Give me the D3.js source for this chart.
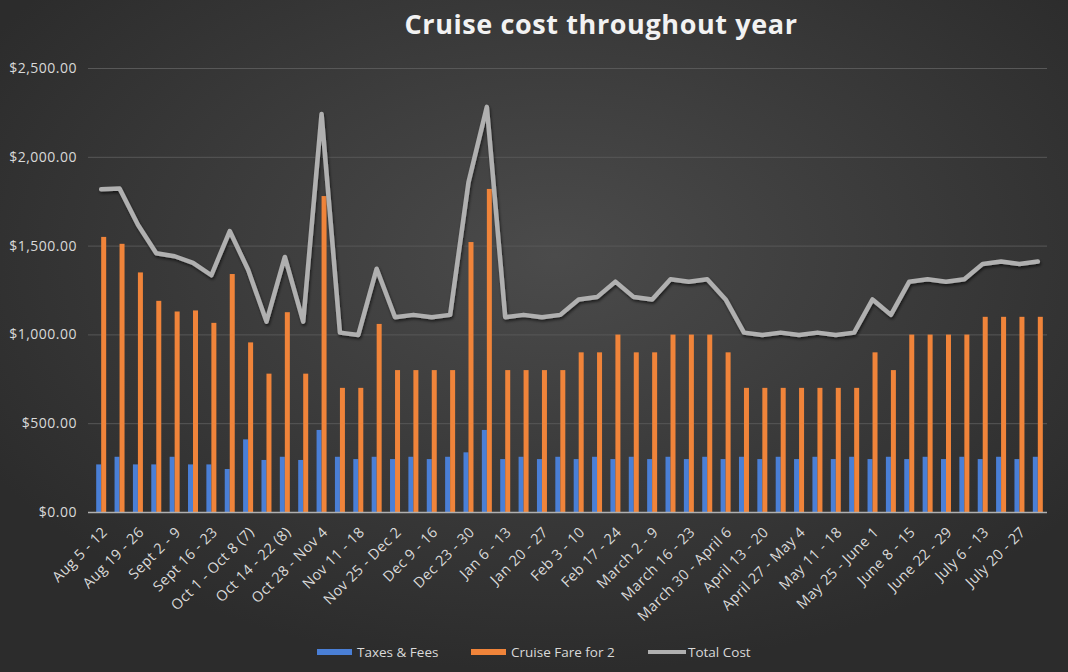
<!DOCTYPE html>
<html lang="en">
  <head>
    <meta charset="utf-8">
    <title>Cruise cost throughout year</title>
    <script type="text/javascript" src="https://cdn.jsdelivr.net/npm/d3@7"></script>
    <style>
      body { margin: 0; background: #2c2c2c; }
      text { font-family: "Open Sans", "Noto Sans", sans-serif; }
    </style>
  </head>
  <body>
    <script type="text/javascript">
    // week ranges (only every other one is labelled on the axis)
    var weeks = [
      "Aug 5 - 12", "Aug 12 - 19", "Aug 19 - 26", "Aug 26 - Sept 2",
      "Sept 2 - 9", "Sept 9 - 16", "Sept 16 - 23", "Sept 23 - 30",
      "Oct 1 - Oct 8 (7)", "Oct 8 - 14", "Oct 14 - 22 (8)", "Oct 22 - 28",
      "Oct 28 - Nov 4", "Nov 4 - 11", "Nov 11 - 18", "Nov 18 - 25",
      "Nov 25 - Dec 2", "Dec 2 - 9", "Dec 9 - 16", "Dec 16 - 23",
      "Dec 23 - 30", "Dec 30 - Jan 6", "Jan 6 - 13", "Jan 13 - 20",
      "Jan 20 - 27", "Jan 27 - Feb 3", "Feb 3 - 10", "Feb 10 - 17",
      "Feb 17 - 24", "Feb 24 - March 2", "March 2 - 9", "March 9 - 16",
      "March 16 - 23", "March 23 - 30", "March 30 - April 6", "April 6 - 13",
      "April 13 - 20", "April 20 - 27", "April 27 - May 4", "May 4 - 11",
      "May 11 - 18", "May 18 - 25", "May 25 - June 1", "June 1 - 8",
      "June 8 - 15", "June 15 - 22", "June 22 - 29", "June 29 - July 6",
      "July 6 - 13", "July 13 - 20", "July 20 - 27", "July 27 - Aug 3"
    ];

    var taxes = [
      268, 311, 268, 268, 311, 268, 268, 242, 409, 293, 311, 293, 462, 311, 298, 311,
      298, 311, 298, 311, 336, 462, 298, 311, 298, 311, 298, 311, 298, 311, 298, 311,
      298, 311, 298, 311, 298, 311, 298, 311, 298, 311, 298, 311, 298, 311, 298, 311,
      298, 311, 298, 311
    ];

    var fares = [
      1549, 1510, 1349, 1189, 1129, 1135, 1065, 1340, 955, 779, 1125, 779, 1779, 699, 699, 1059,
      799, 799, 799, 799, 1520, 1819, 799, 799, 799, 799, 899, 899, 999, 899, 899, 999,
      999, 999, 899, 699, 699, 699, 699, 699, 699, 699, 899, 799, 999, 999, 999, 999,
      1099, 1099, 1099, 1099
    ];

    var totals = [
      1817, 1821, 1617, 1457, 1440, 1403, 1333, 1582, 1364, 1072, 1436, 1072, 2241, 1010, 997, 1370,
      1097, 1110, 1097, 1110, 1856, 2281, 1097, 1110, 1097, 1110, 1197, 1210, 1297, 1210, 1197, 1310,
      1297, 1310, 1197, 1010, 997, 1010, 997, 1010, 997, 1010, 1197, 1110, 1297, 1310, 1297, 1310,
      1397, 1410, 1397, 1410
    ];

    var yTicks = [0, 500, 1000, 1500, 2000, 2500];
    var seriesNames = ["Taxes & Fees", "Cruise Fare for 2", "Total Cost"];

    var w = 1068;
    var h = 672;
    var plotLeft = 92, plotRight = 1047, plotTop = 68, plotBottom = 512;

    var svg = d3.select("body")
                .append("svg")
                .attr("width", w)
                .attr("height", h);

    var defs = svg.append("defs");

    // dark background, lighter towards the middle
    var bg = defs.append("radialGradient")
                 .attr("id", "bg")
                 .attr("cx", "52%").attr("cy", "38%")
                 .attr("r", "62%");
    bg.append("stop").attr("offset", "0%").attr("stop-color", "#4b4b4b");
    bg.append("stop").attr("offset", "100%").attr("stop-color", "#2c2c2c");

    var shadow = defs.append("filter")
                     .attr("id", "shadow")
                     .attr("x", "-10%").attr("y", "-10%")
                     .attr("width", "120%").attr("height", "120%");
    shadow.append("feDropShadow")
          .attr("dx", 1).attr("dy", 2)
          .attr("stdDeviation", 1.5)
          .attr("flood-color", "#000")
          .attr("flood-opacity", 0.6);

    svg.append("rect")
       .attr("width", w)
       .attr("height", h)
       .attr("fill", "url(#bg)");

    var xScale = d3.scaleBand()
                   .domain(d3.range(weeks.length))
                   .range([plotLeft, plotRight]);

    var xInner = d3.scaleBand()
                   .domain([0, 1])
                   .range([xScale.bandwidth() / 2 - 5, xScale.bandwidth() / 2 + 5]);

    var yScale = d3.scaleLinear()
                   .domain([0, 2500])
                   .range([plotBottom, plotTop]);

    // gridlines + y labels
    var yAxis = d3.axisLeft(yScale)
                  .tickValues(yTicks)
                  .tickSize(-(plotRight - 88))
                  .tickPadding(11)
                  .tickFormat(d3.format("$,.2f"));

    var gy = svg.append("g")
                .attr("transform", "translate(88, 0)")
                .call(yAxis);
    gy.select(".domain").remove();
    gy.selectAll(".tick line")
      .attr("stroke", "#585858")
      .attr("stroke-width", 1);
    gy.selectAll(".tick text")
      .attr("fill", "#d9d9d9")
      .style("font-size", "14px")
      .style("letter-spacing", "0.5px");

    // bars
    var barData = [taxes, fares];
    var barColors = ["#4a7fd6", "#f0843a"];

    barData.forEach(function(values, s) {
      svg.append("g")
         .selectAll("rect")
         .data(values)
         .enter()
         .append("rect")
         .attr("x", function(d, i) { return xScale(i) + xInner(s); })
         .attr("y", function(d) { return yScale(d); })
         .attr("width", xInner.bandwidth())
         .attr("height", function(d) { return yScale(0) - yScale(d); })
         .attr("fill", barColors[s]);
    });

    // x axis line
    svg.append("line")
       .attr("x1", 88).attr("x2", plotRight)
       .attr("y1", plotBottom + 0.5).attr("y2", plotBottom + 0.5)
       .attr("stroke", "#b0b0b0")
       .attr("stroke-width", 1.5);

    // total cost line
    var line = d3.line()
                 .x(function(d, i) { return xScale(i) + xScale.bandwidth() / 2; })
                 .y(function(d) { return yScale(d); });

    svg.append("path")
       .datum(totals)
       .attr("d", line)
       .attr("fill", "none")
       .attr("stroke", "#b0b0b0")
       .attr("stroke-width", 4.5)
       .attr("stroke-linejoin", "round")
       .attr("stroke-linecap", "round")
       .attr("filter", "url(#shadow)");

    // x labels, every other week
    svg.append("g")
       .selectAll("text")
       .data(weeks.filter(function(d, i) { return i % 2 === 0; }))
       .enter()
       .append("text")
       .attr("transform", function(d, j) {
         var cx = xScale(j * 2) + xScale.bandwidth() / 2 + 7;
         return "translate(" + cx + "," + (plotBottom + 21) + ") rotate(-45)";
       })
       .attr("text-anchor", "end")
       .attr("fill", "#d9d9d9")
       .style("font-size", "14.5px")
       .style("letter-spacing", "0.4px")
       .text(function(d) { return d; });

    // title
    svg.append("text")
       .attr("x", 601)
       .attr("y", 34)
       .attr("text-anchor", "middle")
       .attr("fill", "#f2f2f2")
       .style("font-size", "27px")
       .style("font-weight", "bold")
       .style("letter-spacing", "0.6px")
       .text("Cruise cost throughout year");

    // legend
    var legendX = [317, 471, 648];
    var legend = svg.append("g");
    seriesNames.forEach(function(name, i) {
      var g = legend.append("g").attr("transform", "translate(" + legendX[i] + ",652)");
      if (i < 2) {
        g.append("rect")
         .attr("x", 0).attr("y", -3)
         .attr("width", 35).attr("height", 6)
         .attr("fill", barColors[i]);
      } else {
        g.append("line")
         .attr("x1", 0).attr("x2", 38)
         .attr("stroke", "#b0b0b0")
         .attr("stroke-width", 4);
      }
      g.append("text")
       .attr("x", 40)
       .attr("y", 5)
       .attr("fill", "#d9d9d9")
       .style("font-size", "13.5px")
       .text(name);
    });
    </script>
  </body>
</html>
